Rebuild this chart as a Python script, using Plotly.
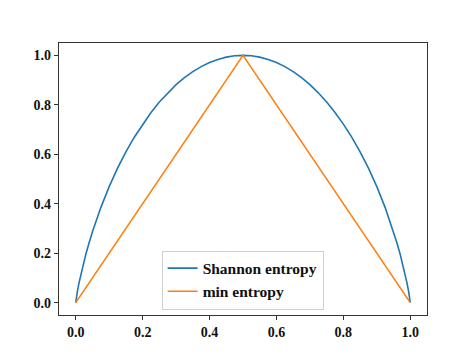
import plotly.graph_objects as go

# Shannon entropy curve
shannon_p = [0.0, 0.001, 0.0025, 0.005, 0.01, 0.02, 0.03, 0.04, 0.05, 0.075, 0.1, 0.125, 0.15, 0.175,
             0.2, 0.225, 0.25, 0.275, 0.3, 0.325, 0.35, 0.375, 0.4, 0.425, 0.45, 0.475, 0.5,
             0.525, 0.55, 0.575, 0.6, 0.625, 0.65, 0.675, 0.7, 0.725, 0.75, 0.775, 0.8, 0.825,
             0.85, 0.875, 0.9, 0.925, 0.95, 0.96, 0.97, 0.98, 0.99, 0.995, 0.9975, 0.999, 1.0]
shannon_h = [0.0, 0.0114, 0.0252, 0.0454, 0.0808, 0.1414, 0.1944, 0.2423, 0.2864, 0.3843, 0.4690, 0.5436, 0.6098, 0.6691,
             0.7219, 0.7692, 0.8113, 0.8485, 0.8813, 0.9098, 0.9341, 0.9544, 0.9710, 0.9837, 0.9928, 0.9982, 1.0,
             0.9982, 0.9928, 0.9837, 0.9710, 0.9544, 0.9341, 0.9098, 0.8813, 0.8485, 0.8113, 0.7692, 0.7219, 0.6691,
             0.6098, 0.5436, 0.4690, 0.3843, 0.2864, 0.2423, 0.1944, 0.1414, 0.0808, 0.0454, 0.0252, 0.0114, 0.0]

# min entropy
min_p = [0.0, 0.5, 1.0]
min_h = [0.0, 1.0, 0.0]

tick_vals = [0.0, 0.2, 0.4, 0.6, 0.8, 1.0]
tick_text = ["<b>0.0</b>", "<b>0.2</b>", "<b>0.4</b>", "<b>0.6</b>", "<b>0.8</b>", "<b>1.0</b>"]

font_family = "Liberation Serif, DejaVu Serif, serif"

fig = go.Figure()
fig.add_trace(go.Scatter(x=shannon_p, y=shannon_h, mode="lines", name="<b>Shannon entropy</b>",
                         line=dict(color="#1f77b4", width=1.6)))
fig.add_trace(go.Scatter(x=min_p, y=min_h, mode="lines", name="<b>min entropy</b>",
                         line=dict(color="#ff7f0e", width=1.6)))

axis_common = dict(
    showgrid=False, zeroline=False, showline=True, linecolor="#333333", linewidth=1.2,
    mirror=True, ticks="outside", ticklen=4, tickwidth=1, tickcolor="#333333",
    tickvals=tick_vals, ticktext=tick_text, tickfont=dict(family=font_family, size=14, color="#111111"),
)

fig.update_layout(
    width=474, height=355,
    margin=dict(l=51, r=55, t=35, b=48),
    paper_bgcolor="white", plot_bgcolor="white",
    xaxis=dict(range=[-0.05, 1.05], **axis_common),
    yaxis=dict(range=[-0.05, 1.05], **axis_common),
    showlegend=True,
    legend=dict(x=0.499, y=0.02, xanchor="center", yanchor="bottom",
                bgcolor="rgba(255,255,255,0.8)", bordercolor="#d0d0d0", borderwidth=1,
                font=dict(family=font_family, size=15.5, color="#111111"),
                tracegroupgap=0, itemwidth=30),
)

fig.write_html("out.html")
